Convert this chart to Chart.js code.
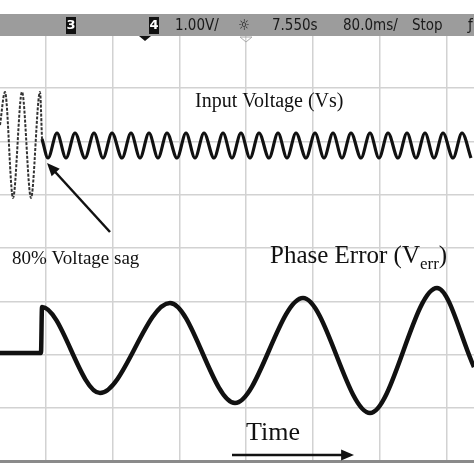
<!DOCTYPE html>
<html>
<head>
<meta charset="utf-8">
<script src="https://cdn.jsdelivr.net/npm/chart.js@4/dist/chart.umd.min.js"></script>
<style>
  html, body { margin: 0; padding: 0; background: #fff; }
  canvas { display: block; }
</style>
</head>
<body>
<canvas id="scope" width="474" height="474"></canvas>
<script>
// screen-unit data (x: time, y: trace height, top = 0)
const gridX = [46, 113, 180, 246, 313, 380, 447];
const gridY = [88, 142, 195, 248, 302, 355, 408];

// input voltage before the sag
const preSagX = [0, 5, 13, 22, 31, 40, 42];
const preSagY = [125, 92, 198, 92, 198, 92, 139];

// input voltage after the sag (80% drop)
const sagPeakX = [57, 75, 94, 112, 131, 149, 167, 186, 204, 223, 241, 259, 278, 296, 315, 333, 351, 370, 388, 407, 425, 443, 462];
const sagTroughX = [48, 66, 85, 103, 122, 140, 158, 177, 195, 214, 232, 250, 269, 287, 306, 324, 342, 361, 379, 398, 416, 434, 453, 471];
const sagPeakY = 133;
const sagTroughY = 158;

// phase error
const errX = [0, 41, 42, 100, 170, 235, 303, 370, 437, 474];
const errY = [353, 353, 307, 393, 303, 403, 298, 413, 288, 367];

const toPts = (xs, ys) => xs.map((x, i) => ({ x: x, y: ys[i] }));

const sagPts = [{ x: 42, y: 139 }]
  .concat(sagPeakX.map(x => ({ x: x, y: sagPeakY })))
  .concat(sagTroughX.map(x => ({ x: x, y: sagTroughY })))
  .sort((a, b) => a.x - b.x);

const serif = '"Liberation Serif", "DejaVu Serif", serif';

const arrow = (ctx, x1, y1, x2, y2, head) => {
  const a = Math.atan2(y2 - y1, x2 - x1);
  ctx.beginPath();
  ctx.moveTo(x1, y1);
  ctx.lineTo(x2 - Math.cos(a) * head * 0.8, y2 - Math.sin(a) * head * 0.8);
  ctx.stroke();
  ctx.beginPath();
  ctx.moveTo(x2, y2);
  ctx.lineTo(x2 - head * Math.cos(a - 0.4), y2 - head * Math.sin(a - 0.4));
  ctx.lineTo(x2 - head * Math.cos(a + 0.4), y2 - head * Math.sin(a + 0.4));
  ctx.closePath();
  ctx.fill();
};

const overlay = {
  id: 'overlay',
  afterDraw(chart) {
    const ctx = chart.ctx;
    ctx.save();
    // white margins
    ctx.fillStyle = '#fff';
    ctx.fillRect(0, 0, 474, 14);
    ctx.fillRect(0, 463, 474, 11);
    // bottom border
    ctx.fillStyle = '#8a8a8a';
    ctx.fillRect(0, 460, 474, 3);
    // status bar
    ctx.fillStyle = '#9c9c9c';
    ctx.fillRect(0, 14, 474, 22);
    ctx.fillStyle = '#111';
    ctx.fillRect(66, 17, 10, 17);
    ctx.fillRect(149, 17, 10, 17);
    ctx.beginPath();
    ctx.moveTo(139, 36); ctx.lineTo(151, 36); ctx.lineTo(145, 41); ctx.fill();
    ctx.fillStyle = '#fff';
    ctx.font = 'bold 13px "DejaVu Sans", sans-serif';
    ctx.textBaseline = 'middle';
    ctx.textAlign = 'center';
    ctx.fillText('3', 71, 26);
    ctx.fillText('4', 154, 26);
    ctx.fillStyle = '#1a1a1a';
    ctx.font = '15px "DejaVu Sans Condensed", "DejaVu Sans", sans-serif';
    ctx.textAlign = 'left';
    ctx.fillText('1.00V/', 175, 26);
    ctx.fillText('☼', 238, 26);
    ctx.fillText('7.550s', 272, 26);
    ctx.fillText('80.0ms/', 343, 26);
    ctx.fillText('Stop', 412, 26);
    ctx.fillText('ƒ', 468, 26);
    ctx.strokeStyle = '#aaa';
    ctx.beginPath();
    ctx.moveTo(240, 37); ctx.lineTo(252, 37); ctx.lineTo(246, 42); ctx.closePath(); ctx.stroke();

    // annotations
    ctx.fillStyle = '#111';
    ctx.textBaseline = 'alphabetic';
    ctx.font = '20px ' + serif;
    ctx.fillText('Input Voltage (Vs)', 195, 107);
    ctx.font = '19px ' + serif;
    ctx.fillText('80% Voltage sag', 12, 264);
    ctx.font = '25px ' + serif;
    ctx.fillText('Phase Error (V', 270, 263);
    const w = ctx.measureText('Phase Error (V').width;
    ctx.font = '17px ' + serif;
    ctx.fillText('err', 270 + w, 269);
    const w2 = ctx.measureText('err').width;
    ctx.font = '25px ' + serif;
    ctx.fillText(')', 270 + w + w2, 263);
    ctx.font = '26px ' + serif;
    ctx.fillText('Time', 246, 440);

    ctx.strokeStyle = '#111';
    ctx.lineWidth = 2.5;
    arrow(ctx, 110, 232, 47, 163, 14);
    arrow(ctx, 232, 455, 354, 455, 14);
    ctx.restore();
  }
};

new Chart(document.getElementById('scope'), {
  type: 'scatter',
  data: {
    datasets: [
      {
        data: toPts(preSagX, preSagY),
        showLine: true, borderColor: '#333', borderWidth: 2, borderDash: [3, 1.5],
        pointRadius: 0, cubicInterpolationMode: 'monotone'
      },
      {
        data: sagPts,
        showLine: true, borderColor: '#111', borderWidth: 3.2,
        pointRadius: 0, cubicInterpolationMode: 'monotone'
      },
      {
        data: toPts(errX, errY),
        showLine: true, borderColor: '#111', borderWidth: 4.5,
        pointRadius: 0, cubicInterpolationMode: 'monotone'
      }
    ]
  },
  options: {
    responsive: false,
    animation: false,
    events: [],
    layout: { padding: 0 },
    plugins: { legend: { display: false }, tooltip: { enabled: false } },
    scales: {
      x: {
        type: 'linear', min: 0, max: 474,
        afterBuildTicks: s => { s.ticks = gridX.map(v => ({ value: v })); },
        ticks: { display: false },
        grid: { color: '#d2d2d2', lineWidth: 1.5, drawTicks: false },
        border: { display: false }
      },
      y: {
        type: 'linear', min: 0, max: 474, reverse: true,
        afterBuildTicks: s => { s.ticks = gridY.map(v => ({ value: v })); },
        ticks: { display: false },
        grid: { color: '#d2d2d2', lineWidth: 1.5, drawTicks: false },
        border: { display: false }
      }
    }
  },
  plugins: [overlay]
});
</script>
</body>
</html>
